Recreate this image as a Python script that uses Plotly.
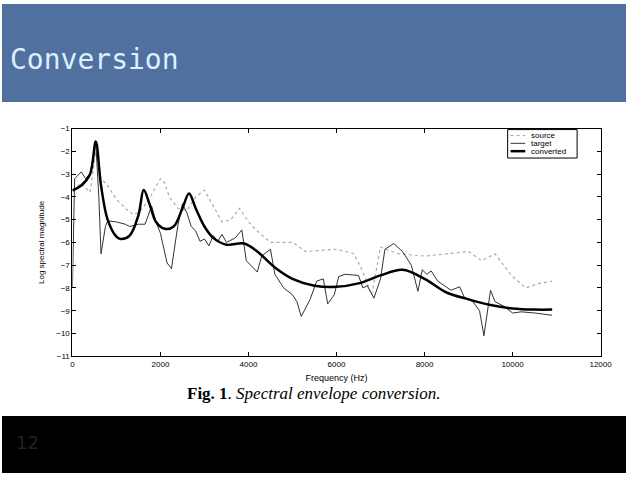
import plotly.graph_objects as go

conv_x = [0, 200, 400, 530, 650, 800, 1000, 1100, 1300, 1500, 1620, 1750, 1900, 2100, 2300, 2500, 2650, 2800, 3000,
          3200, 3500, 3900, 4200, 4600, 5000, 5500, 6000, 6500, 7000, 7500, 8000, 8500, 9000, 9500, 10000, 10500, 10900]
conv_y = [-3.72, -3.5, -3.0, -1.57, -3.5, -5.0, -5.75, -5.85, -5.7, -4.8, -3.7, -4.3, -5.1, -5.4, -5.3, -4.5, -3.85, -4.5, -5.3,
          -5.8, -6.1, -6.05, -6.4, -7.1, -7.6, -7.9, -7.95, -7.8, -7.45, -7.2, -7.6, -8.2, -8.5, -8.75, -8.9, -8.95, -8.95]

targ_x = [0, 50, 200, 300, 400, 530, 600, 650, 750, 800, 1000, 1200, 1300, 1500, 1650, 1800, 1900, 2000, 2150, 2250,
          2400, 2500, 2600, 2700, 2800, 2900, 3000, 3100, 3200, 3300, 3400, 3500, 3700, 3850, 3950, 4100, 4200, 4300,
          4500, 4600, 4800, 5000, 5100, 5200, 5400, 5550, 5700, 5800, 5950, 6050, 6200, 6500, 6600, 6700, 6850, 7000,
          7100, 7300, 7500, 7700, 7850, 7950, 8050, 8150, 8300, 8600, 8800, 8900, 9100, 9250, 9350, 9500, 9600, 9800,
          10000, 10200, 10500, 10900]
targ_y = [-8.0, -3.2, -2.9, -3.2, -3.0, -1.6, -4.0, -6.5, -5.3, -5.05, -5.1, -5.2, -5.3, -5.2, -5.2, -4.4, -5.1, -5.6, -6.9, -7.15,
          -5.2, -4.3, -4.7, -5.3, -5.5, -5.95, -5.85, -6.15, -5.7, -5.95, -5.65, -6.0, -5.8, -5.45, -6.8, -7.1, -7.3, -6.6,
          -6.3, -7.4, -8.0, -8.3, -8.6, -9.25, -8.5, -7.7, -7.6, -8.7, -8.3, -7.5, -7.4, -7.45, -8.0, -7.9, -8.45, -7.6,
          -6.3, -6.05, -6.4, -7.0, -8.15, -7.2, -7.4, -7.25, -7.7, -8.1, -7.95, -8.4, -8.6, -9.0, -10.1, -8.1, -8.6, -8.8,
          -9.1, -9.05, -9.1, -9.2]

src_x = [0, 200, 400, 530, 650, 800, 1000, 1200, 1400, 1600, 1800, 2000, 2100, 2200, 2400, 2600, 2800, 3000, 3200, 3400,
         3600, 3800, 4000, 4200, 4500, 5000, 5300, 5600, 6000, 6400, 6600, 6800, 7000, 7400, 8000, 8500, 9000, 9300,
         9600, 10000, 10300, 10600, 10900]
src_y = [-3.7, -3.4, -3.8, -2.0, -3.2, -3.5, -4.1, -4.5, -4.8, -4.5, -3.9, -3.2, -3.4, -4.0, -4.5, -4.6, -4.0, -3.7, -4.4, -5.1,
         -5.0, -4.5, -5.1, -5.5, -6.0, -6.0, -6.4, -6.35, -6.3, -6.5, -7.3, -8.3, -6.2, -6.5, -6.6, -6.5, -6.4, -6.8,
         -6.5, -7.5, -8.0, -7.8, -7.7]

styles = {
    "source": dict(color="#aaaaaa", width=1.2, dash="dot"),
    "target": dict(color="#333333", width=1),
    "converted": dict(color="black", width=2.5),
}

fig = go.Figure()
fig.add_trace(go.Scatter(x=src_x, y=src_y, name="source", mode="lines", line=styles["source"]))
fig.add_trace(go.Scatter(x=targ_x, y=targ_y, name="target", mode="lines", line=styles["target"]))
fig.add_trace(go.Scatter(x=conv_x, y=conv_y, name="converted", mode="lines",
                         line=dict(styles["converted"], shape="spline")))

H = 478.0
W = 638.0
def py(p):
    return 1 - p / H

# slide background bands
fig.add_shape(type="rect", xref="paper", yref="paper", x0=0, x1=1, y0=py(100), y1=1,
              fillcolor="#50709f", line_width=0, layer="below")
fig.add_shape(type="rect", xref="paper", yref="paper", x0=0, x1=1, y0=0, y1=py(420),
              fillcolor="black", line_width=0, layer="below")

fig.add_annotation(text="Conversion", xref="paper", yref="paper", x=0.01, y=py(38), xanchor="left",
                   showarrow=False, font=dict(family="DejaVu Sans Mono", size=28, color="#dcefff"))
fig.add_annotation(text="12", xref="paper", yref="paper", x=0.02, y=py(460), xanchor="left",
                   showarrow=False, font=dict(family="DejaVu Sans", size=18, color="#222222"))
fig.add_annotation(text="<b>Fig. 1</b>. <i>Spectral envelope conversion.</i>", xref="paper", yref="paper",
                   x=0.5, y=py(409), showarrow=False,
                   font=dict(family="Liberation Serif", size=17, color="black"))

# compact legend box, drawn by hand
fig.add_shape(type="rect", xref="paper", yref="paper", x0=517/W, x1=588/W, y0=py(157), y1=py(128),
              fillcolor="white", line=dict(color="black", width=1))
for i, name in enumerate(["source", "target", "converted"]):
    yy = py(134 + i * 8)
    fig.add_shape(type="line", xref="paper", yref="paper", x0=520/W, x1=535/W, y0=yy, y1=yy,
                  line=styles[name])
    fig.add_annotation(text=name, xref="paper", yref="paper", x=540/W, y=yy, xanchor="left", yanchor="middle",
                       showarrow=False, borderpad=0,
                       font=dict(family="Liberation Sans", size=8, color="black"))

axis = dict(showgrid=False, zeroline=False, showline=True, linecolor="black", linewidth=1,
            mirror="ticks", ticks="inside", ticklen=4, tickcolor="black",
            tickfont=dict(family="Liberation Sans", size=8, color="black"))

fig.update_layout(
    width=638, height=478, margin=dict(l=0, r=0, t=0, b=0),
    paper_bgcolor="white", plot_bgcolor="white", showlegend=False,
    xaxis=dict(axis, range=[0, 12000], dtick=2000, tickformat="d", domain=[72/W, 612/W],
               title=dict(text="Frequency (Hz)", font=dict(family="Liberation Sans", size=9, color="black"),
                          standoff=6)),
    yaxis=dict(axis, range=[-11, -1], dtick=1, domain=[py(359), py(127)],
               title=dict(text="Log spectral magnitude", font=dict(family="Liberation Sans", size=8, color="black"),
                          standoff=10)),
)

fig.write_html("out.html", config={"displayModeBar": False},
               post_script="document.body.style.margin='0';document.body.style.overflow='hidden';"
                           "document.documentElement.style.overflow='hidden';")
